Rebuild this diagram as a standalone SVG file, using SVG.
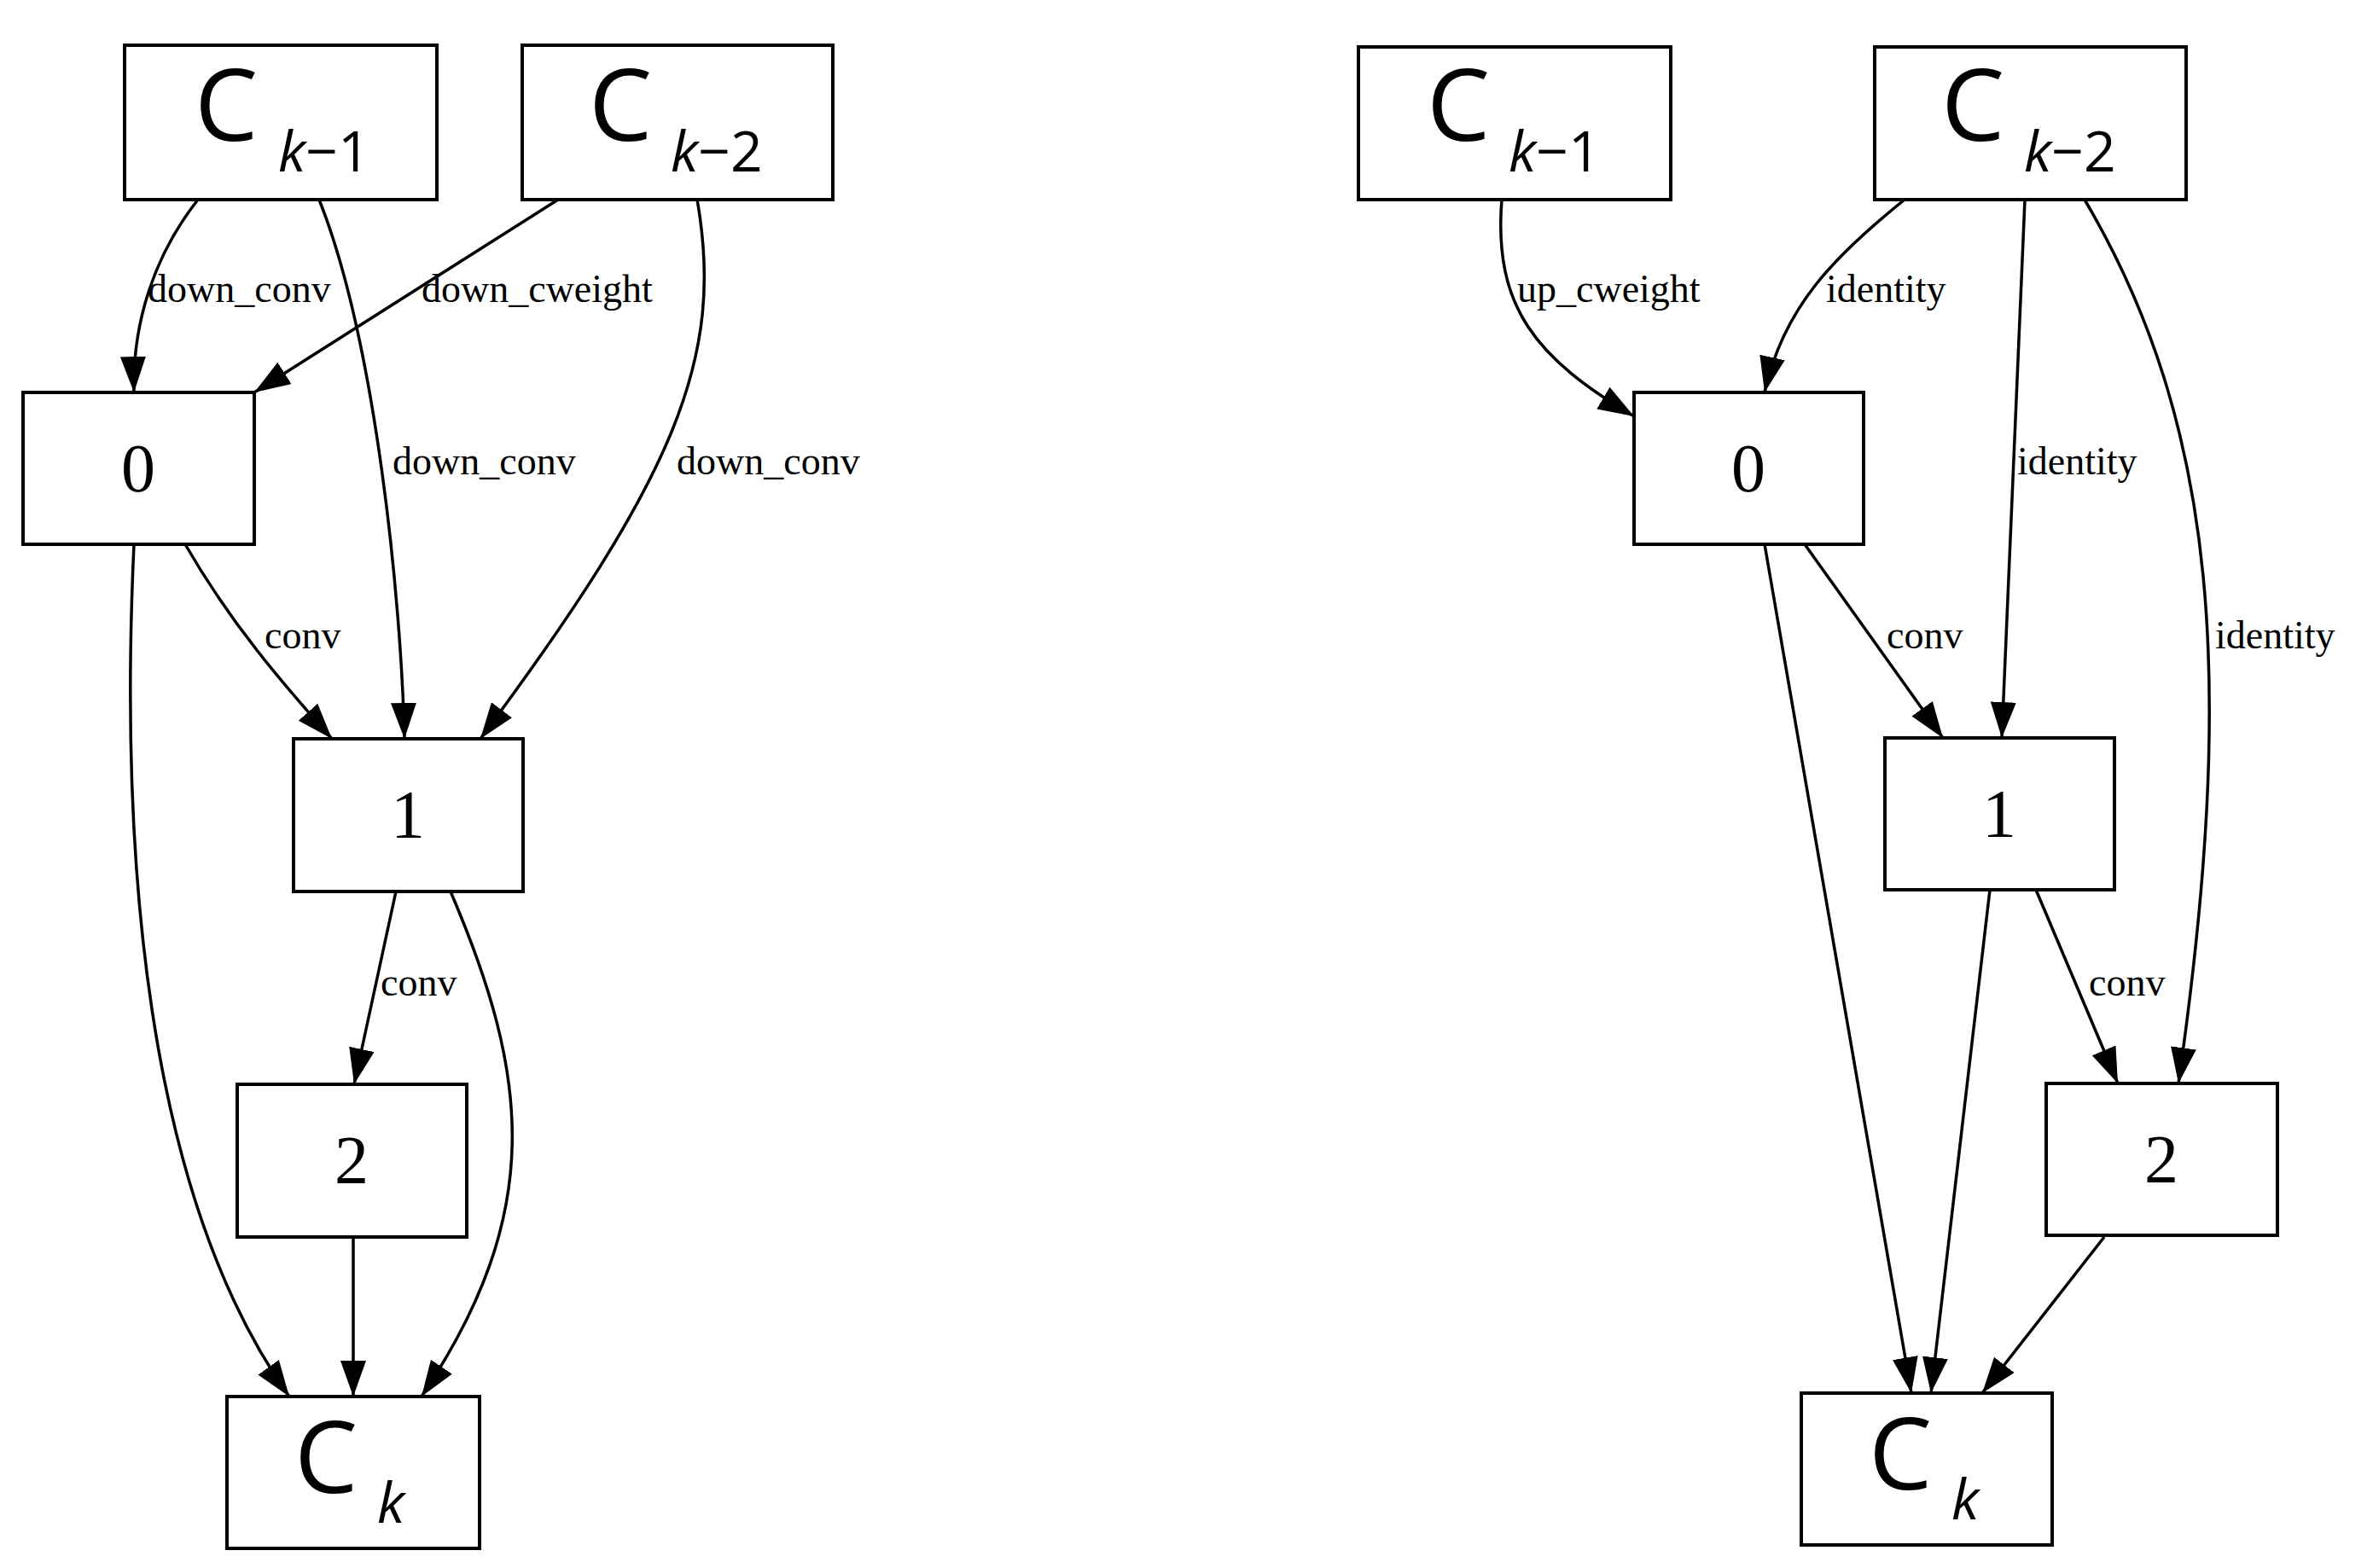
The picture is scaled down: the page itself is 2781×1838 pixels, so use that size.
<svg xmlns="http://www.w3.org/2000/svg" width="2781" height="1838" viewBox="0 0 2781 1838">
<style>
rect{fill:#fff;stroke:#000;stroke-width:4}
.e{fill:none;stroke:#000;stroke-width:3.5;marker-end:url(#a)}
.C{font-family:"Open Sans","DejaVu Sans",sans-serif;font-size:118px}
.s{font-family:"Open Sans","DejaVu Sans",sans-serif;font-size:66px}
.n{font-family:"Liberation Serif",serif;font-size:80px;text-anchor:middle}
.l{font-family:"Liberation Serif",serif;font-size:46px}
</style>
<defs><marker id="a" markerUnits="userSpaceOnUse" markerWidth="44" markerHeight="32" refX="42" refY="15" orient="auto"><path d="M0,0 L42,15 L0,30 z"/></marker></defs>
<rect width="2781" height="1838" style="fill:#fff;stroke:none"/>
<g id="edges">
<path class="e" d="M232,234 C180,300 155,380 157,460"/>
<path class="e" d="M374,234 C440,400 470,700 474,866"/>
<path class="e" d="M654,234 L298,460"/>
<path class="e" d="M817,234 C850,420 790,560 563,866"/>
<path class="e" d="M217,638 C270,730 330,800 389,866"/>
<path class="e" d="M157,638 C140,1000 170,1400 339,1637"/>
<path class="e" d="M464,1045 L415,1271"/>
<path class="e" d="M528,1045 C620,1260 640,1420 494,1637"/>
<path class="e" d="M414,1450 L414,1637"/>
<path class="e" d="M1760,234 C1750,360 1800,420 1915,488"/>
<path class="e" d="M2232,234 C2150,300 2090,360 2068,460"/>
<path class="e" d="M2373,234 L2346,865"/>
<path class="e" d="M2443,234 C2600,500 2620,800 2553,1270"/>
<path class="e" d="M2115,638 L2277,865"/>
<path class="e" d="M2068,638 L2240,1633"/>
<path class="e" d="M2332,1043 L2263,1633"/>
<path class="e" d="M2386,1043 L2482,1270"/>
<path class="e" d="M2466,1450 L2323,1633"/>
<text class="l" x="173" y="354">down_conv</text>
<text class="l" x="460" y="556">down_conv</text>
<text class="l" x="494" y="354">down_cweight</text>
<text class="l" x="793" y="556">down_conv</text>
<text class="l" x="310" y="760">conv</text>
<text class="l" x="446" y="1167">conv</text>
<text class="l" x="1778" y="354">up_cweight</text>
<text class="l" x="2140" y="354">identity</text>
<text class="l" x="2364" y="556">identity</text>
<text class="l" x="2596" y="760">identity</text>
<text class="l" x="2211" y="760">conv</text>
<text class="l" x="2448" y="1167">conv</text>
</g>
<g id="L_ck1"><rect x="146" y="53" width="366" height="181"/><text x="228" y="165" class="C">C</text><text x="326" y="201" class="s" font-style="italic">k<tspan font-style="normal">−1</tspan></text></g>
<g id="L_ck2"><rect x="612" y="53" width="364" height="181"/><text x="690" y="165" class="C">C</text><text x="786" y="201" class="s" font-style="italic">k<tspan font-style="normal">−2</tspan></text></g>
<g id="L_0"><rect x="27" y="460" width="271" height="178"/><text x="162" y="576" class="n">0</text></g>
<g id="L_1"><rect x="344" y="866" width="269" height="179"/><text x="478" y="982" class="n">1</text></g>
<g id="L_2"><rect x="278" y="1271" width="269" height="179"/><text x="412" y="1387" class="n">2</text></g>
<g id="L_ck"><rect x="266" y="1637" width="296" height="178"/><text x="345" y="1750" class="C">C</text><text x="442" y="1785" class="s" font-style="italic">k</text></g>
<g id="R_ck1"><rect x="1592" y="55" width="366" height="179"/><text x="1672" y="165" class="C">C</text><text x="1768" y="201" class="s" font-style="italic">k<tspan font-style="normal">−1</tspan></text></g>
<g id="R_ck2"><rect x="2197" y="55" width="365" height="179"/><text x="2275" y="165" class="C">C</text><text x="2372" y="201" class="s" font-style="italic">k<tspan font-style="normal">−2</tspan></text></g>
<g id="R_0"><rect x="1915" y="460" width="269" height="178"/><text x="2049" y="576" class="n">0</text></g>
<g id="R_1"><rect x="2209" y="865" width="269" height="178"/><text x="2343" y="981" class="n">1</text></g>
<g id="R_2"><rect x="2398" y="1270" width="271" height="178"/><text x="2533" y="1386" class="n">2</text></g>
<g id="R_ck"><rect x="2111" y="1633" width="294" height="178"/><text x="2190" y="1746" class="C">C</text><text x="2287" y="1781" class="s" font-style="italic">k</text></g>
</svg>
